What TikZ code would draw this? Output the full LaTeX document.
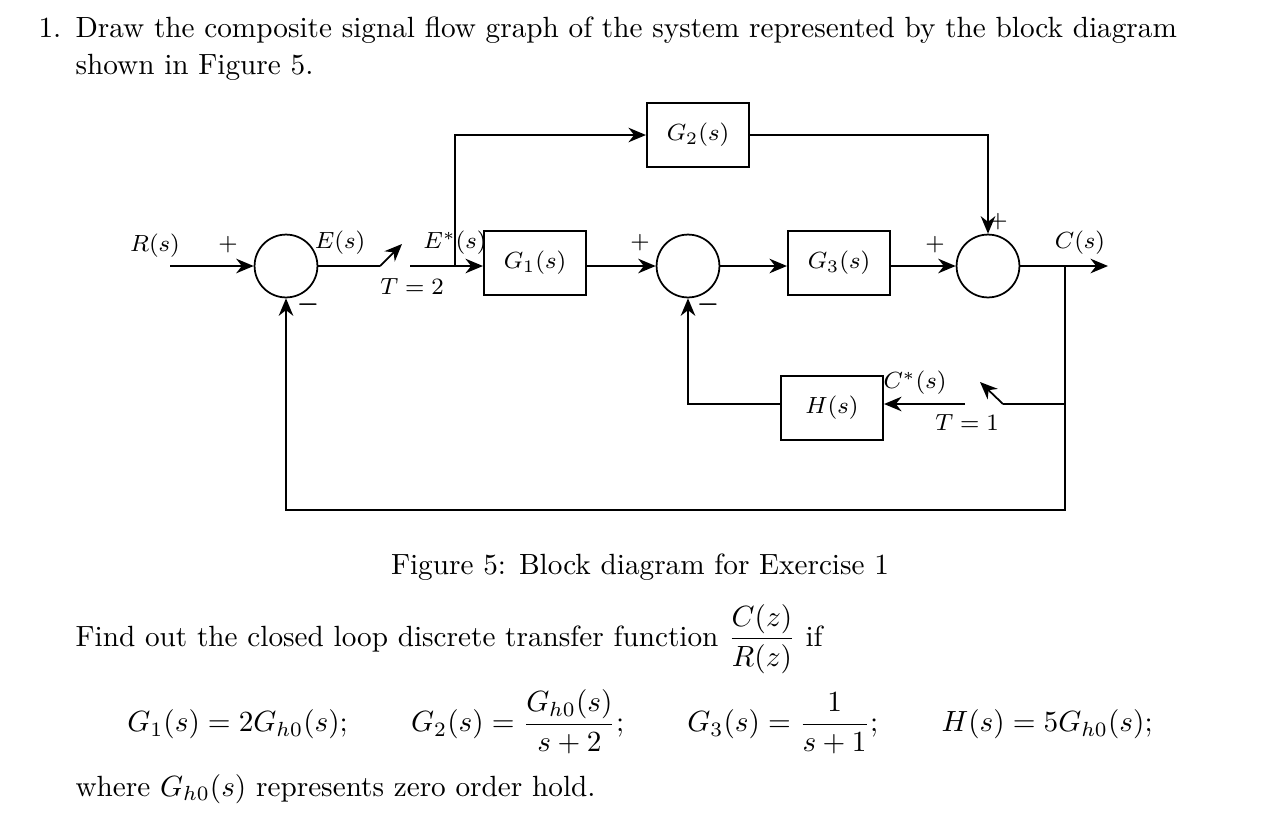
\documentclass[tikz,border=0pt]{standalone}
\usepackage{amsmath}
\usepackage{tikz}
\usetikzlibrary{arrows.meta}
\begin{document}
\begin{tikzpicture}[x=0.342pt,y=-0.342pt,>={Stealth[length=6pt,width=5pt]}]
    \tikzstyle{block}=[draw, semithick, minimum width=35pt, minimum height=22pt, font=\footnotesize]
    \tikzstyle{sum}=[draw, semithick, circle, minimum size=21.5pt]
    \tikzstyle{lbl}=[font=\footnotesize, inner sep=0pt]

    \useasboundingbox (0,0) rectangle (1281,819);

    % question text
    \node[anchor=base west, inner sep=0pt] (num) at (38,37) {1.};
    \node[anchor=base west, inner sep=0pt] (q1) at (75,37) {Draw the composite signal flow graph of the system represented by the block diagram};
    \node[anchor=base west, inner sep=0pt] (q2) at (75,74) {shown in Figure 5.};

    % blocks and summing points
    \node[sum]   (s1) at (286,266) {};
    \node[sum]   (s2) at (688,266) {};
    \node[sum]   (s3) at (988,266) {};
    \node[block] (g1) at (535,263) {$G_1(s)$};
    \node[block] (g3) at (839,263) {$G_3(s)$};
    \node[block] (g2) at (698,135) {$G_2(s)$};
    \node[block] (h)  at (832,408) {$H(s)$};

    \coordinate (in)  at (170,266);
    \coordinate (e1)  at (380,266);
    \coordinate (e2)  at (402,244);
    \coordinate (e3)  at (410,266);
    \coordinate (br)  at (455,266);
    \coordinate (brt) at (455,135);
    \coordinate (g2r) at (988,135);
    \coordinate (out) at (1108,266);
    \coordinate (co)  at (1065,266);
    \coordinate (cm)  at (1065,404);
    \coordinate (cb)  at (1065,510);
    \coordinate (c1)  at (1003,404);
    \coordinate (c2)  at (980,382);
    \coordinate (c3)  at (965,404);
    \coordinate (hl)  at (688,404);
    \coordinate (fb)  at (286,510);

    \draw[->, semithick] (in) -- (s1);
    \draw[semithick] (s1) -- (e1);
    \draw[->, semithick] (e1) -- (e2);
    \draw[->, semithick] (e3) -- (g1.west |- e3);
    \draw[->, semithick] (br) -- (brt) -- (g2);
    \draw[->, semithick] (g1.east |- s2) -- (s2);
    \draw[->, semithick] (s2) -- (g3.west |- s2);
    \draw[->, semithick] (g3.east |- s3) -- (s3);
    \draw[->, semithick] (g2) -- (g2r) -- (s3);
    \draw[->, semithick] (s3) -- (out);
    \draw[semithick] (co) -- (cm) -- (c1);
    \draw[->, semithick] (c1) -- (c2);
    \draw[->, semithick] (c3) -- (h.east |- c3);
    \draw[->, semithick] (h.west |- hl) -- (hl) -- (s2);
    \draw[->, semithick] (cm) -- (cb) -- (fb) -- (s1);

    \node[lbl] (rl)  at (155,246) {$R(s)$};
    \node[lbl] (p1)  at (228,245) {$+$};
    \node[lbl] (m1)  at (308,305) {$\boldsymbol{-}$};
    \node[lbl] (el)  at (340,243) {$E(s)$};
    \node[lbl] (t2)  at (412,286) {$T=2$};
    \node[lbl] (esl) at (455,243) {$E^{*}(s)$};
    \node[lbl] (p2)  at (640,243) {$+$};
    \node[lbl] (m2)  at (708,305) {$\boldsymbol{-}$};
    \node[lbl] (p3)  at (935,245) {$+$};
    \node[lbl] (p4)  at (998,222) {$+$};
    \node[lbl] (cl)  at (1080,243) {$C(s)$};
    \node[lbl] (csl) at (915,383) {$C^{*}(s)$};
    \node[lbl] (t1)  at (967,422) {$T=1$};

    % caption and remaining text
    \node[inner sep=0pt] (cap) at (640,567) {Figure 5: Block diagram for Exercise 1};
    \node[anchor=base west, inner sep=0pt] (f1) at (75,646) {Find out the closed loop discrete transfer function $\dfrac{C(z)}{R(z)}$ if};
    \node[inner sep=0pt] (eq) at (640,722) {$G_1(s)=2G_{h0}(s);\qquad G_2(s)=\dfrac{G_{h0}(s)}{s+2};\qquad G_3(s)=\dfrac{1}{s+1};\qquad H(s)=5G_{h0}(s);$};
    \node[anchor=base west, inner sep=0pt] (wh) at (75,796) {where $G_{h0}(s)$ represents zero order hold.};
\end{tikzpicture}
\end{document}
